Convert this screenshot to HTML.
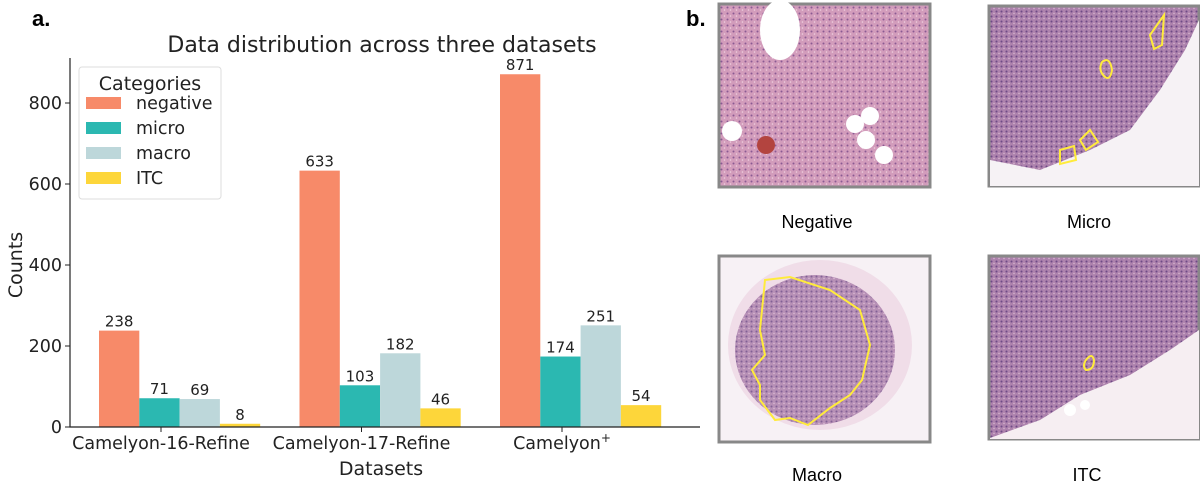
<!DOCTYPE html>
<html><head><meta charset="utf-8"><style>
body{margin:0;background:#fff;width:1200px;height:484px;overflow:hidden;font-family:"DejaVu Sans","Liberation Sans",sans-serif}
</style></head><body>
<svg id="fig" width="1200" height="484" viewBox="0 0 1200 484" xmlns="http://www.w3.org/2000/svg">
<defs>
<pattern id="tex" width="6" height="6" patternUnits="userSpaceOnUse">
<rect width="6" height="6" fill="#d29cbb"/><circle cx="1.5" cy="1.5" r="1" fill="#8a5a93"/><circle cx="4.5" cy="4" r="0.8" fill="#efd0df"/>
</pattern>
<pattern id="tex2" width="5" height="5" patternUnits="userSpaceOnUse">
<rect width="5" height="5" fill="#ad82ad"/><circle cx="1.5" cy="1.5" r="1" fill="#6e4a86"/><circle cx="4" cy="3.5" r="0.7" fill="#dcbcd3"/>
</pattern>
</defs>
<text x="32" y="26" font-size="22" font-weight="bold" font-family="Liberation Sans, sans-serif">a.</text>
<text x="686" y="26" font-size="22" font-weight="bold" font-family="Liberation Sans, sans-serif">b.</text>
<text x="382" y="52" font-size="22" text-anchor="middle" fill="#222">Data distribution across three datasets</text>
<g id="chart"></g>
<g>
<rect x="79" y="67" width="142" height="132" fill="#fff" stroke="#ddd" rx="3"/>
<text x="150" y="90" font-size="19" text-anchor="middle" fill="#222">Categories</text>
<g id="leg"></g>
</g>
<text transform="translate(22,265) rotate(-90)" font-size="19" text-anchor="middle" fill="#222">Counts</text>
<text x="381" y="475" font-size="19" text-anchor="middle" fill="#222">Datasets</text>

<g>
<rect x="719" y="4" width="211" height="183" fill="url(#tex)" stroke="#888" stroke-width="3"/>
<ellipse cx="780" cy="30" rx="20" ry="30" fill="#fff"/>
<circle cx="732" cy="131" r="10" fill="#fff"/><circle cx="855" cy="124" r="9" fill="#fff"/><circle cx="870" cy="116" r="9" fill="#fff"/><circle cx="866" cy="140" r="9" fill="#fff"/><circle cx="884" cy="155" r="9" fill="#fff"/>
<circle cx="766" cy="145" r="9" fill="#b3443f"/>
</g>
<text x="817" y="228" font-size="18" text-anchor="middle" font-family="Liberation Sans, sans-serif">Negative</text>
<g>
<rect x="989" y="6" width="210" height="180" fill="url(#tex2)" stroke="#888" stroke-width="3"/>
<path d="M1199 20 L1199 186 L990 186 L990 160 L1040 170 L1090 150 L1130 130 L1160 90 L1185 50 Z" fill="#f6f2f5"/>
<path d="M1102 62 q8 -6 10 8 q-2 12 -8 6 q-6 -6 -2 -14z M1150 35 l14 -20 l-2 30 l-8 4z M1060 150 l14 -4 l2 14 l-16 4z M1080 140 l10 -10 l8 12 l-12 8z" fill="none" stroke="#ffeb3b" stroke-width="2"/>
</g>
<text x="1089" y="228" font-size="18" text-anchor="middle" font-family="Liberation Sans, sans-serif">Micro</text>
<g>
<rect x="719" y="256" width="211" height="186" fill="#f7f1f5" stroke="#888" stroke-width="3"/>
<ellipse cx="820" cy="345" rx="92" ry="85" fill="#f0dde8"/>
<ellipse cx="815" cy="350" rx="80" ry="75" fill="url(#tex2)" opacity="0.85"/>
<path d="M765 280 L790 277 L830 290 L860 310 L870 345 L862 380 L850 395 L830 408 L808 425 L790 418 L775 420 L760 400 L760 385 L752 370 L765 355 L760 330 Z" fill="none" stroke="#ffeb3b" stroke-width="2"/>
</g>
<text x="817" y="481" font-size="18" text-anchor="middle" font-family="Liberation Sans, sans-serif">Macro</text>
<g>
<rect x="989" y="256" width="210" height="183" fill="url(#tex2)" stroke="#888" stroke-width="3"/>
<path d="M990 439 L990 438 L1040 420 L1080 395 L1130 375 L1170 350 L1199 330 L1199 439 Z" fill="#f6eef2"/>
<circle cx="1070" cy="410" r="6" fill="#fff"/><circle cx="1085" cy="405" r="5" fill="#fff"/>
<path d="M1086 360 q6 -8 8 0 q0 10 -8 10 q-4 -4 0 -10z" fill="none" stroke="#ffeb3b" stroke-width="2"/>
</g>
<text x="1087" y="481" font-size="18" text-anchor="middle" font-family="Liberation Sans, sans-serif">ITC</text>
</svg>
<script>
const categories = ["Camelyon-16-Refine","Camelyon-17-Refine","Camelyon+"];
const seriesNames = ["negative","micro","macro","ITC"];
const negative = [238,633,871];
const micro = [71,103,174];
const macro = [69,182,251];
const itc = [8,46,54];
const yTicks = [0,200,400,600,800];
const colors = ["#f78a69","#2bb8b1","#bdd7da","#fdd63a"];
const NS="http://www.w3.org/2000/svg";
const x0=70, xEnd=700, yZero=427, yTop=58;
const y = v => yZero - v*(324/800);
const tickX = i => 161 + i*200.5;
const barW = 40.3;
const g=document.getElementById('chart');
function mk(t,a){const e=document.createElementNS(NS,t);for(const k in a)e.setAttribute(k,a[k]);return e;}
const data=[negative,micro,macro,itc];
data.forEach((arr,s)=>{arr.forEach((v,i)=>{
  const bx=tickX(i)-62+s*barW;
  const r=mk('rect',{x:bx,y:y(v),width:barW,height:yZero-y(v),fill:colors[s]});
  
  
  g.appendChild(r);
  const t=mk('text',{x:bx+barW/2,y:y(v)-4,'font-size':15,'text-anchor':'middle',fill:'#222'});
  t.textContent=v;
  
  
  g.appendChild(t);
});});
const ax=mk('path',{d:`M${x0} ${yTop} L${x0} ${yZero} L${xEnd} ${yZero}`,stroke:'#222',fill:'none','stroke-width':1.2});


g.appendChild(ax);
yTicks.forEach(v=>{
  g.appendChild(mk('line',{x1:x0-5,x2:x0,y1:y(v),y2:y(v),stroke:'#222'}));
  const t=mk('text',{x:x0-8,y:y(v)+6,'font-size':17.5,'text-anchor':'end',fill:'#222'});
  t.textContent=v;
  
  
  g.appendChild(t);
});
categories.forEach((c,i)=>{
  g.appendChild(mk('line',{x1:tickX(i),x2:tickX(i),y1:yZero,y2:yZero+5,stroke:'#222'}));
  const t=mk('text',{x:tickX(i),y:yZero+22,'font-size':17.5,'text-anchor':'middle',fill:'#222'});
  if(c==="Camelyon+"){t.textContent="Camelyon";const s=mk('tspan',{dy:-7,'font-size':12});s.textContent="+";t.appendChild(s);}
  else t.textContent=c;
  
  
  g.appendChild(t);
});
const leg=document.getElementById('leg');
seriesNames.forEach((n,s)=>{
  const yy=103+s*25;
  const r=mk('rect',{x:86,y:yy-6,width:35,height:12,fill:colors[s]});
  
  
  leg.appendChild(r);
  const t=mk('text',{x:136,y:yy+6,'font-size':17.5,fill:'#222'});
  t.textContent=n;
  
  
  leg.appendChild(t);
});
</script>
</body></html>
